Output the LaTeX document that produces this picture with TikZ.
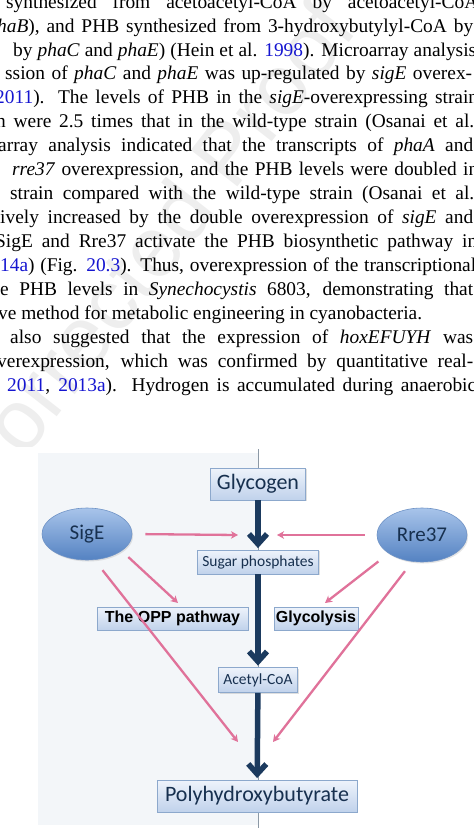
\documentclass[tikz,border=0pt]{standalone}
\usepackage{fontspec}
\setmainfont{Liberation Serif}
\newfontfamily\diagfont{Carlito}
\newfontfamily\gothfont{Liberation Sans}
\usetikzlibrary{arrows.meta,shadows,shapes.geometric}

\definecolor{navy}{HTML}{1B3A5E}
\definecolor{navytext}{HTML}{17304F}
\definecolor{pinkline}{HTML}{E0729A}
\definecolor{boxtop}{HTML}{EEF3FB}
\definecolor{boxbot}{HTML}{C0D2EB}
\definecolor{boxedge}{HTML}{8CA8CC}
\definecolor{ellipsetop}{HTML}{A8C4EA}
\definecolor{ellipsebot}{HTML}{5482C2}
\definecolor{ellipseedge}{HTML}{6F93C6}
\definecolor{panelfill}{HTML}{F3F6F9}
\definecolor{midgray}{HTML}{8C99A6}
\definecolor{markgray}{HTML}{EEEEEE}
\definecolor{citeblue}{HTML}{1515D0}

\newcommand{\bodysize}{\fontsize{19.4}{23.95}\selectfont}
\newcommand{\refno}[1]{\textcolor{citeblue}{#1}}

\begin{document}
\begin{tikzpicture}
[x=1pt,y=-1pt,%
  bookline/.style={anchor=base west,inner sep=0pt,font=\bodysize},%
  watermark/.style={anchor=base west,inner sep=0pt,rotate=52,text=markgray,
    font=\gothfont\fontsize{86}{90}\selectfont},%
  pathbox/.style={draw=boxedge,line width=0.8pt,top color=boxtop,bottom color=boxbot,
    inner sep=0pt,text=navytext,
    drop shadow={opacity=0.25,shadow xshift=1.2pt,shadow yshift=-1.2pt}},%
  bigbox/.style={pathbox,minimum height=32pt,font=\diagfont\fontsize{22}{26}\selectfont},%
  smallbox/.style={pathbox,minimum height=24pt,font=\diagfont\fontsize{15.5}{18}\selectfont},%
  routebox/.style={pathbox,minimum height=23pt,text=black,
    font=\gothfont\bfseries\fontsize{16}{19}\selectfont},%
  regulator/.style={ellipse,draw=ellipseedge,line width=0.6pt,top color=ellipsetop,
    bottom color=ellipsebot,minimum width=90pt,minimum height=52pt,inner sep=0pt,
    text=navytext,font=\diagfont\fontsize{21}{24}\selectfont,
    drop shadow={opacity=0.2,shadow xshift=1.2pt,shadow yshift=-1.5pt}},%
  mainflow/.style={draw=navy,line width=5.5pt,
    -{Straight Barb[length=10pt,width=18pt]},shorten >=1.5pt},%
  pinkarrow/.style={draw=pinkline,line width=2.3pt,
    -{Stealth[length=7pt,width=7.5pt,inset=2pt]}}]
\useasboundingbox (0,0) rectangle (474,828);
\clip (0,0) rectangle (474,828);

% proof mark behind the page text
\node[watermark] (proofmark) at (-70,580) {Uncorrected Proof};

% page text
\node[bookline] (l1) at (6,8.1) {\makebox[472pt][s]{synthesized from acetoacetyl-CoA by acetoacetyl-CoA}};
\node[bookline] (l2) at (-3,32.05) {\makebox[476pt][s]{\textit{haB}), and PHB synthesized from 3-hydroxybutylyl-CoA by}};
\node[bookline] (l3) at (13,56) {\makebox[463pt][s]{by \textit{phaC} and \textit{phaE}) (Hein et al. \refno{1998}). Microarray analysis}};
\node[bookline] (l4) at (5,79.95) {\makebox[467pt][s]{ssion of \textit{phaC} and \textit{phaE} was up-regulated by \textit{sigE} overex-}};
\node[bookline] (l5) at (-5,103.9) {\makebox[483pt][s]{\refno{2011}). The levels of PHB in the \textit{sigE}-overexpressing strain}};
\node[bookline] (l6) at (-4,127.85) {\makebox[478pt][s]{n were 2.5 times that in the wild-type strain (Osanai et al.}};
\node[bookline] (l7) at (-2,151.8) {\makebox[475pt][s]{array analysis indicated that the transcripts of \textit{phaA} and}};
\node[bookline] (l8) at (12,175.75) {\makebox[466pt][s]{\textit{rre37} overexpression, and the PHB levels were doubled in}};
\node[bookline] (l9) at (10,199.7) {\makebox[464pt][s]{strain compared with the wild-type strain (Osanai et al.}};
\node[bookline] (l10) at (0,223.65) {\makebox[473pt][s]{ively increased by the double overexpression of \textit{sigE} and}};
\node[bookline] (l11) at (-5,247.6) {\makebox[482pt][s]{SigE and Rre37 activate the PHB biosynthetic pathway in}};
\node[bookline] (l12) at (0,271.55) {\makebox[476pt][s]{\refno{14a}) (Fig. \refno{20.3}). Thus, overexpression of the transcriptional}};
\node[bookline] (l13) at (0,295.5) {\makebox[473pt][s]{e PHB levels in \textit{Synechocystis} 6803, demonstrating that}};
\node[bookline] (l14) at (-2,319.45) {ve method for metabolic engineering in cyanobacteria.};
\node[bookline] (l15) at (10,343.4) {\makebox[463pt][s]{also suggested that the expression of \textit{hoxEFUYH} was}};
\node[bookline] (l16) at (-3,367.35) {\makebox[476pt][s]{verexpression, which was confirmed by quantitative real-}};
\node[bookline] (l17) at (7,391.3) {\makebox[469pt][s]{\refno{2011}, \refno{2013a}). Hydrogen is accumulated during anaerobic}};

% figure ground
\fill[white] (0,447) rectangle (474,828);
\fill[panelfill] (38,453) rectangle (258,825);
\draw[midgray,line width=0.6pt] (258,449) -- (258,828);

% metabolites
\node[bigbox,minimum width=95pt] (glycogen) at (258,484) {Glycogen};
\node[smallbox,minimum width=121pt] (sugar) at (258,562) {Sugar phosphates};
\node[routebox,minimum width=151pt] (opp) at (172.5,618.5) {The OPP pathway};
\node[routebox,minimum width=84pt] (glyco) at (316,618.5) {Glycolysis};
\node[smallbox,minimum width=79pt,minimum height=25pt] (acetyl) at (258,680) {Acetyl-CoA};
\node[bigbox,minimum width=200pt] (phb) at (257,796) {Polyhydroxybutyrate};

% regulators
\node[regulator] (sige) at (87,534) {SigE};
\node[regulator,minimum height=54pt] (rre) at (422,535) {Rre37};

% free ends of the pink arrows
\coordinate (sugarL) at (238,535);
\coordinate (sugarR) at (277,535);
\coordinate (oppin) at (178,603);
\coordinate (glyin) at (325,603);
\coordinate (phbL) at (238,742);
\coordinate (phbR) at (273,742);

% carbon flow
\draw[mainflow] (glycogen) -- (sugar);
\draw[mainflow] (sugar) -- (acetyl);
\draw[mainflow] (acetyl) -- (phb);

% activation
\draw[pinkarrow,shorten <=13pt] (sige.east) -- (sugarL);
\draw[pinkarrow,shorten <=9pt] (sige.-26) -- (oppin);
\draw[pinkarrow,shorten <=13pt] (sige.-74) -- (phbL);
\draw[pinkarrow,shorten <=12pt] (rre.west) -- (sugarR);
\draw[pinkarrow,shorten <=13pt] (rre.209) -- (glyin);
\draw[pinkarrow,shorten <=12pt] (rre.250) -- (phbR);
\end{tikzpicture}
\end{document}
